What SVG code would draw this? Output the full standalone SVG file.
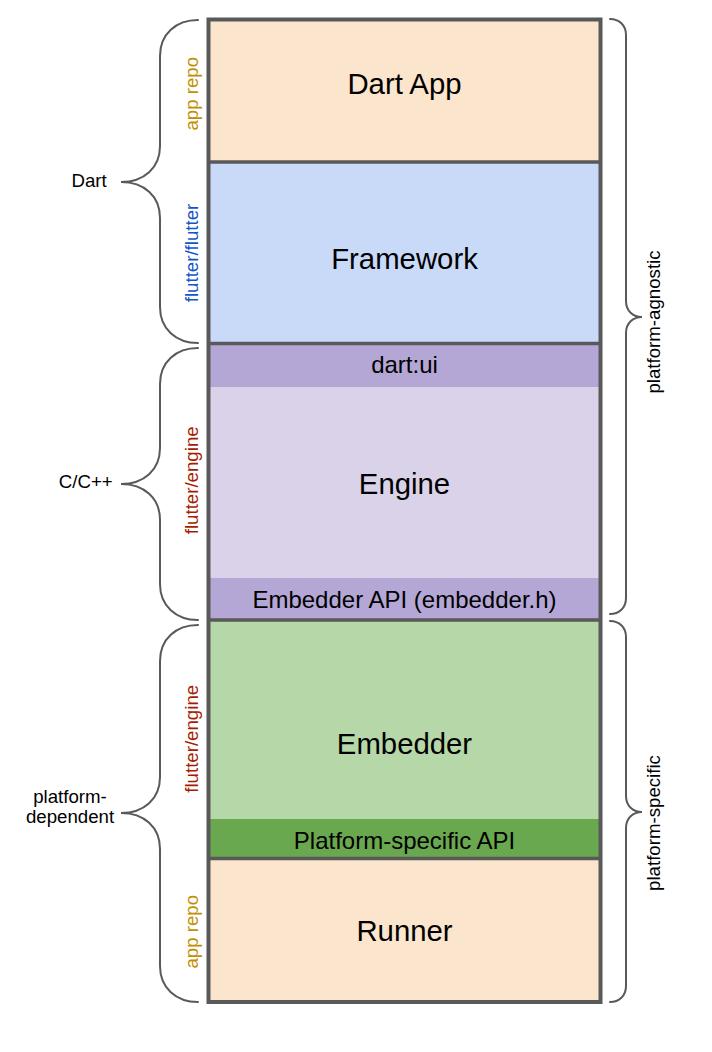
<svg xmlns="http://www.w3.org/2000/svg" width="712" height="1052" viewBox="0 0 712 1052">
  <style>
    .layer { stroke: #a0a0a0; stroke-width: 1; }
    .big { font-family: "Liberation Sans", Arial, sans-serif; font-size: 29.33px; fill: #000; text-anchor: middle; }
    .small { font-family: "Liberation Sans", Arial, sans-serif; font-size: 24px; fill: #000; text-anchor: middle; }
    .lbl { font-family: "Liberation Sans", Arial, sans-serif; font-size: 18.67px; fill: #000; }
    .mid { text-anchor: middle; }
    .end { text-anchor: end; }
    .brace { fill: none; stroke: #595959; stroke-width: 2; stroke-linecap: round; }
    .sep { stroke: #595959; stroke-width: 3.5; }
    .appc { fill: #bf9000; }
    .fwc { fill: #1155cc; }
    .engc { fill: #a61c00; }
  </style>

  <g id="dart-app">
    <rect class="layer" x="208.5" y="19.5" width="392" height="142.5" fill="#fce5cd"/>
    <text class="big" x="404.5" y="93.5">Dart App</text>
  </g>
  <g id="framework">
    <rect class="layer" x="208.5" y="162" width="392" height="181.5" fill="#c9daf8"/>
    <text class="big" x="404.5" y="268.5">Framework</text>
  </g>
  <g id="dart-ui">
    <rect x="208.5" y="343.5" width="392" height="43.5" fill="#b4a7d6"/>
    <text class="small" x="404.5" y="373">dart:ui</text>
  </g>
  <g id="engine">
    <rect x="208.5" y="387" width="392" height="191" fill="#d9d2e9"/>
    <text class="big" x="404.5" y="493.5">Engine</text>
  </g>
  <g id="embedder-api">
    <rect x="208.5" y="578" width="392" height="42" fill="#b4a7d6"/>
    <text class="small" x="404.5" y="607.5">Embedder API (embedder.h)</text>
  </g>
  <g id="embedder">
    <rect x="208.5" y="620" width="392" height="199" fill="#b6d7a8"/>
    <text class="big" x="404.5" y="753.5">Embedder</text>
  </g>
  <g id="platform-api">
    <rect x="208.5" y="819" width="392" height="39.5" fill="#6aa84f"/>
    <text class="small" x="404.5" y="849">Platform-specific API</text>
  </g>
  <g id="runner">
    <rect class="layer" x="208.5" y="858.5" width="392" height="143.5" fill="#fce5cd"/>
    <text class="big" x="404.5" y="941">Runner</text>
  </g>

  <g id="frame">
    <line class="sep" x1="208.5" y1="162" x2="600.5" y2="162"/>
    <line class="sep" x1="208.5" y1="343.5" x2="600.5" y2="343.5"/>
    <line class="sep" x1="208.5" y1="620" x2="600.5" y2="620"/>
    <line class="sep" x1="208.5" y1="858.5" x2="600.5" y2="858.5"/>
    <rect x="208.5" y="19.5" width="392" height="982.5" fill="none" stroke="#595959" stroke-width="4"/>
  </g>

  <g id="connectors">
    <path class="brace" d="M198,20 C176,20 160,34 160,56 L160,146 C160,168 144,182 121,182 C144,182 160,196 160,218 L160,307 C160,329 176,343 198,343"/>
    <path class="brace" d="M198,348 C176,348 160,362 160,384 L160,448 C160,470 144,484 121,484 C144,484 160,498 160,520 L160,584 C160,606 176,620 198,620"/>
    <path class="brace" d="M198,625 C176,625 160,639 160,661 L160,777 C160,799 144,813 121,813 C144,813 160,827 160,849 L160,966 C160,988 176,1002 198,1002"/>
    <path class="brace" d="M610,19 C619,19 626,25 626,35 L626,301 C626,311 633,317 642,317 C633,317 626,323 626,333 L626,598 C626,608 619,614 610,614"/>
    <path class="brace" d="M610,621 C619,621 626,627 626,637 L626,796 C626,806 633,812 642,812 C633,812 626,818 626,828 L626,986 C626,996 619,1002 610,1002"/>
  </g>

  <g id="repo-labels">
    <text class="lbl mid appc" transform="translate(198,93.7) rotate(-90)">app repo</text>
    <text class="lbl mid fwc" transform="translate(198,253) rotate(-90)">flutter/flutter</text>
    <text class="lbl mid engc" transform="translate(198,480.3) rotate(-90)">flutter/engine</text>
    <text class="lbl mid engc" transform="translate(198,738.8) rotate(-90)">flutter/engine</text>
    <text class="lbl mid appc" transform="translate(198,931.7) rotate(-90)">app repo</text>
  </g>

  <g id="language-labels">
    <text class="lbl end" x="106.7" y="187">Dart</text>
    <text class="lbl end" x="112.7" y="488.3">C/C++</text>
    <text class="lbl mid" x="70" y="803.3">platform-</text>
    <text class="lbl mid" x="70" y="823.3">dependent</text>
  </g>

  <g id="platform-labels">
    <text class="lbl mid" transform="translate(660,322) rotate(-90)">platform-agnostic</text>
    <text class="lbl mid" transform="translate(660,823) rotate(-90)">platform-specific</text>
  </g>
</svg>
